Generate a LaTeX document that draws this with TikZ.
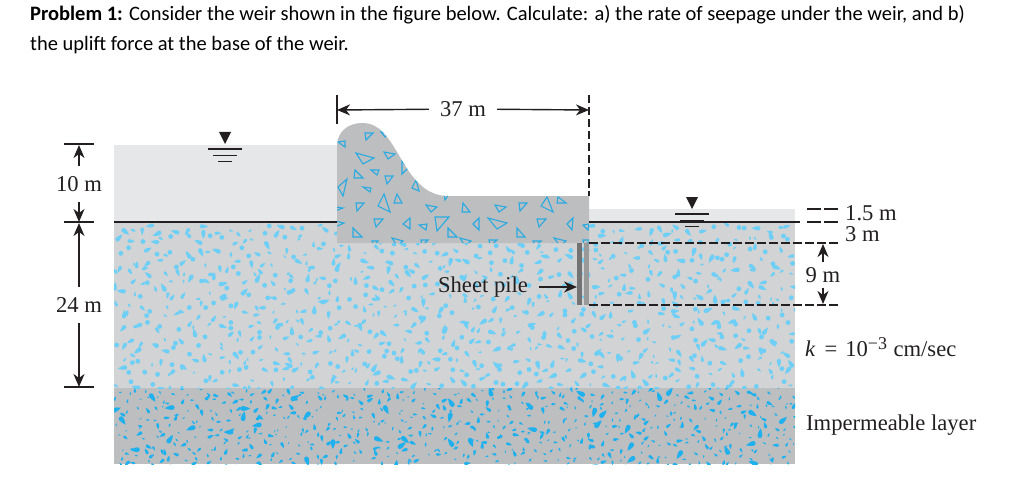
\documentclass[tikz,border=0pt]{standalone}
\usepackage{fontspec}
\setmainfont{Liberation Serif}
\newfontfamily\problemfont{Carlito}
\usetikzlibrary{arrows.meta}

\definecolor{waterfill}{HTML}{E6E7E8}
\definecolor{soilfill}{HTML}{D1D3D4}
\definecolor{hardfill}{HTML}{BCBEC0}
\definecolor{weirfill}{HTML}{BCBEC0}
\definecolor{soilspeck}{HTML}{6DCFF6}
\definecolor{hardspeck}{HTML}{1FB0EE}
\definecolor{weirspeck}{HTML}{29ABE2}
\definecolor{inkline}{HTML}{231F20}

\tikzset{
  dimline/.style={draw=inkline,line width=1.3pt},
  dimarrow/.style={draw=inkline,line width=1.4pt,-{Stealth[length=13pt,width=11pt,inset=4pt]}},
  dashline/.style={draw=inkline,line width=1.3pt,dash pattern=on 8.5pt off 3.5pt},
  label/.style={text=inkline,font=\fontsize{22.6}{24}\selectfont,inner sep=0pt},
  problem/.style={text=black,font=\problemfont\fontsize{20.5}{24}\selectfont,inner sep=0pt,anchor=base west},
  tri/.style={draw=weirspeck,line width=1.1pt,fill=none,line join=miter},
  pics/watermark/.style={code={
    \fill[inkline] (-6,-12) -- (6,-12) -- (0,0) -- cycle;
    \draw[inkline,line width=1.4pt] (-17,5) -- (17,5);
    \draw[inkline,line width=1.4pt] (-12,11.5) -- (12,11.5);
    \draw[inkline,line width=1.4pt] (-7,17.5) -- (7,17.5);
  }}
}

\newcommand{\seepdrop}[4]{%
  \fill[shift={(#1,#2)},rotate=#3,scale=#4] (-1,0) .. controls (-1,-1.4) and (1,-1) .. (2.8,0) .. controls (1,1) and (-1,1.4) .. (-1,0);}
\newcommand{\weirtri}[3]{\draw[tri] #1 -- #2 -- #3 -- cycle;}

\begin{document}
\begin{tikzpicture}[x=1pt,y=-1pt]
  \useasboundingbox (0,0) rectangle (1024,481);
  \pgfmathsetseed{4217}

  % ground and water
  \fill[waterfill] (114,145) rectangle (337,222);
  \fill[waterfill] (589,209) rectangle (795,222);
  \fill[soilfill]  (114,222) rectangle (795,388);
  \fill[hardfill]  (114,388) rectangle (795,464);

  % specks in the soil
  \begin{scope}[fill=soilspeck]
    \clip (114,222) rectangle (795,388);
    \foreach \x in {114,125,...,798}
      \foreach \y in {224,235,...,392} {
        \pgfmathsetmacro{\px}{\x+11*rnd}
        \pgfmathsetmacro{\py}{\y+11*rnd}
        \pgfmathsetmacro{\pa}{360*rnd}
        \pgfmathsetmacro{\ps}{1+1.5*rnd}
        \pgfmathtruncatemacro{\pk}{4*rnd}
        \ifnum\pk=0
          \fill (\px,\py) circle[radius=2.4pt];
        \else
          \seepdrop{\px}{\py}{\pa}{\ps}
        \fi
      }
  \end{scope}

  % specks in the impermeable layer
  \begin{scope}[fill=hardspeck]
    \clip (114,388) rectangle (795,464);
    \foreach \x in {114,123,...,798}
      \foreach \y in {388,397,...,466} {
        \pgfmathsetmacro{\px}{\x+9*rnd}
        \pgfmathsetmacro{\py}{\y+9*rnd}
        \pgfmathsetmacro{\pa}{360*rnd}
        \pgfmathsetmacro{\ps}{.6+1.2*rnd}
        \pgfmathtruncatemacro{\pk}{12*rnd}
        \ifnum\pk=0
          \pgfmathsetmacro{\ps}{2.6}
        \fi
        \seepdrop{\px}{\py}{\pa}{\ps}
      }
  \end{scope}

  % weir body
  \begin{scope}
    \path[fill=weirfill,save path=\weirpath]
      (337,243) -- (337,146) .. controls (337,131) and (349,123) .. (362,123)
      .. controls (380,123) and (388,137) .. (400,157)
      .. controls (412,178) and (425,196) .. (448,196) -- (589,196) -- (589,243) -- cycle;
    \clip[use path=\weirpath];
    \weirtri{(365,133)}{(373,133)}{(366,140)}
    \weirtri{(338,142)}{(345,141)}{(345,147)}
    \weirtri{(381,132)}{(388,134)}{(385,137)}
    \weirtri{(356,153)}{(374,158)}{(363,164)}
    \weirtri{(384,152)}{(395,154)}{(388,159)}
    \weirtri{(402,161)}{(408,168)}{(402,174)}
    \weirtri{(355,170)}{(363,178)}{(354,178)}
    \weirtri{(371,170)}{(379,170)}{(377,175)}
    \weirtri{(385,176)}{(393,176)}{(387,184)}
    \weirtri{(347,179)}{(338,187)}{(343,196)}
    \weirtri{(363,187)}{(371,188)}{(370,192)}
    \weirtri{(416,180)}{(419,191)}{(412,188)}
    \weirtri{(384,194)}{(390,212)}{(378,206)}
    \weirtri{(397,194)}{(402,203)}{(394,203)}
    \weirtri{(356,203)}{(364,203)}{(357,211)}
    \weirtri{(335,207)}{(343,208)}{(335,211)}
    \weirtri{(426,205)}{(437,207)}{(431,212)}
    \weirtri{(463,203)}{(470,212)}{(462,212)}
    \weirtri{(495,205)}{(506,207)}{(499,212)}
    \weirtri{(519,203)}{(527,203)}{(520,211)}
    \weirtri{(547,197)}{(553,212)}{(541,206)}
    \weirtri{(558,197)}{(566,203)}{(557,203)}
    \weirtri{(444,194)}{(449,194)}{(445,200)}
    \weirtri{(435,217)}{(449,217)}{(437,231)}
    \weirtri{(374,219)}{(383,219)}{(376,227)}
    \weirtri{(335,221)}{(344,223)}{(335,227)}
    \weirtri{(410,218)}{(410,229)}{(403,224)}
    \weirtri{(419,225)}{(427,224)}{(426,230)}
    \weirtri{(479,218)}{(479,230)}{(473,224)}
    \weirtri{(488,218)}{(507,223)}{(497,229)}
    \weirtri{(537,219)}{(546,219)}{(539,227)}
    \weirtri{(573,218)}{(572,230)}{(567,224)}
    \weirtri{(583,225)}{(589,224)}{(588,230)}
    \weirtri{(353,228)}{(362,237)}{(353,237)}
    \weirtri{(448,228)}{(457,237)}{(448,237)}
    \weirtri{(517,228)}{(525,237)}{(517,237)}
    \weirtri{(372,241)}{(378,241)}{(374,246)}
    \weirtri{(392,238)}{(403,241)}{(397,246)}
    \weirtri{(421,240)}{(428,240)}{(422,246)}
    \weirtri{(460,238)}{(471,241)}{(465,246)}
    \weirtri{(489,240)}{(497,240)}{(490,246)}
    \weirtri{(533,241)}{(541,241)}{(535,246)}
    \weirtri{(554,238)}{(566,241)}{(560,246)}
    \weirtri{(583,240)}{(591,240)}{(584,246)}
  \end{scope}

  % sheet pile
  \fill[black!55] (577,243) rectangle (582,305);
  \fill[black!40] (584,243) rectangle (589,305);

  % water marks
  \pic at (225,144) {watermark};
  \pic at (692,209) {watermark};

  % named points
  \coordinate (wl1)  at (114,222);
  \coordinate (wl2)  at (337,222);
  \coordinate (wr1)  at (589,222);
  \coordinate (wr2)  at (800,222);
  \coordinate (t1a)  at ( 64,144);
  \coordinate (t1b)  at ( 94,144);
  \coordinate (t2a)  at ( 64,222);
  \coordinate (t2b)  at ( 94,222);
  \coordinate (t3a)  at ( 64,387);
  \coordinate (t3b)  at ( 94,387);
  \coordinate (a10t) at ( 79,145);
  \coordinate (a10b) at ( 79,222);
  \coordinate (a24t) at ( 79,223);
  \coordinate (a24b) at ( 79,387);
  \coordinate (wa)   at (337, 95);
  \coordinate (wb)   at (337,124);
  \coordinate (da)   at (589, 95);
  \coordinate (db)   at (589,196);
  \coordinate (a37l) at (337,110);
  \coordinate (a37r) at (589,110);
  \coordinate (p1a)  at (589,243);
  \coordinate (p1b)  at (838,243);
  \coordinate (p2a)  at (589,305);
  \coordinate (p2b)  at (838,305);
  \coordinate (s1a)  at (807,209);
  \coordinate (s1b)  at (821,209);
  \coordinate (s2a)  at (824,209);
  \coordinate (s2b)  at (838,209);
  \coordinate (s3a)  at (807,222);
  \coordinate (s3b)  at (821,222);
  \coordinate (s4a)  at (824,222);
  \coordinate (s4b)  at (838,222);
  \coordinate (a9t)  at (823,244);
  \coordinate (a9b)  at (823,304);
  \coordinate (pile) at (577,287);

  % labels
  \node[label,minimum height=36pt] (d10) at ( 79,184) {10 m};
  \node[label,minimum height=36pt] (d24) at ( 79,305) {24 m};
  \node[label,minimum width=68pt]  (d37) at (463,109) {37 m};
  \node[label,minimum height=25pt] (d9)  at (823,275) {9 m};
  \node[label,anchor=west]  (d15)   at (845,213) {1.5 m};
  \node[label,anchor=west]  (d3)    at (845,234) {3 m};
  \node[label,inner xsep=11pt] (sheet) at (483,287) {Sheet pile};
  \node[label,anchor=west]  (perm)  at (805,347) {\textit{k}\hspace{9pt}=\hspace{8pt}10\textsuperscript{\fontsize{18}{18}\selectfont −3}\hspace{6pt}cm/sec};
  \node[label,anchor=west]  (hard)  at (806,425) {Impermeable layer};

  % problem text
  \node[problem] (line1) at (30,21) {\textbf{Problem 1:} Consider the weir shown in the figure below. Calculate: a) the rate of seepage under the weir, and b)};
  \node[problem] (line2) at (30,51) {the uplift force at the base of the weir.};

  % lines
  \draw[inkline,line width=1.4pt] (wl1) to (wl2);
  \draw[inkline,line width=1.4pt] (wr1) to (wr2);
  \draw[dimline]  (t1a) to (t1b);
  \draw[dimline]  (t2a) to (t2b);
  \draw[dimline]  (t3a) to (t3b);
  \draw[dimline]  (wa) to (wb);
  \draw[dashline] (da) to (db);
  \draw[dashline] (p1a) to (p1b);
  \draw[dashline] (p2a) to (p2b);
  \draw[dimline]  (s1a) to (s1b);
  \draw[dimline]  (s2a) to (s2b);
  \draw[dimline]  (s3a) to (s3b);
  \draw[dimline]  (s4a) to (s4b);

  % arrows
  \draw[dimarrow] (d10) to (a10t);
  \draw[dimarrow] (d10) to (a10b);
  \draw[dimarrow] (d24) to (a24t);
  \draw[dimarrow] (d24) to (a24b);
  \draw[dimarrow] (d37) to (a37l);
  \draw[dimarrow] (d37) to (a37r);
  \draw[dimarrow] (d9) to (a9t);
  \draw[dimarrow] (d9) to (a9b);
  \draw[dimarrow] (sheet) to (pile);
\end{tikzpicture}
\end{document}
